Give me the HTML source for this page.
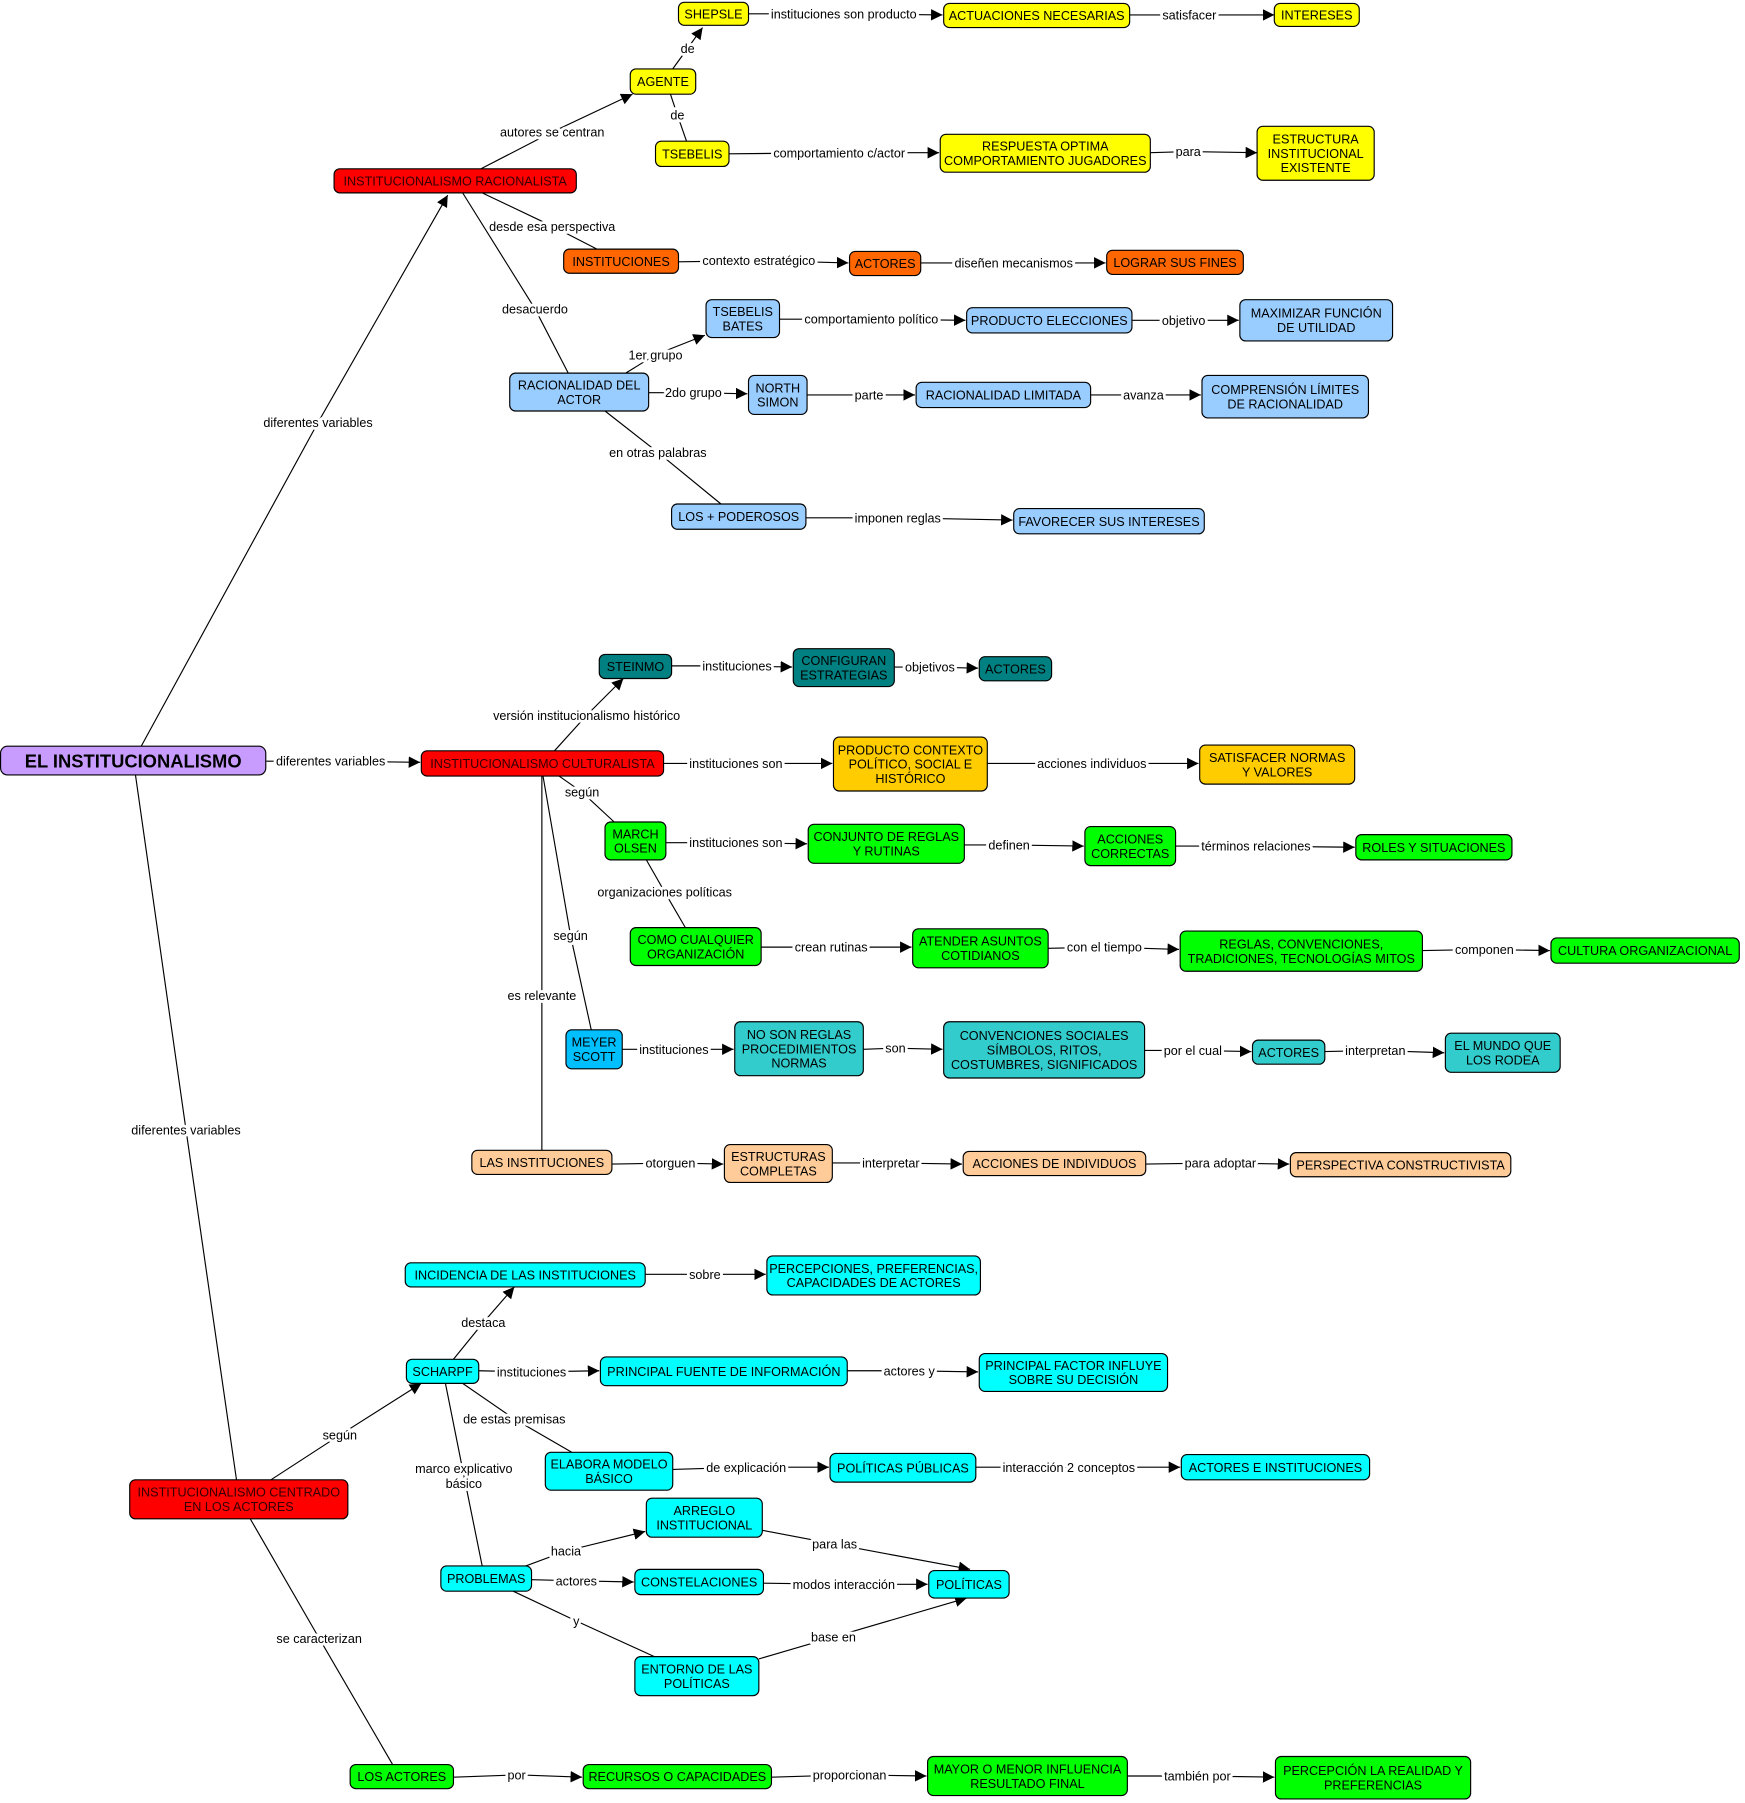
<!DOCTYPE html>
<html><head><meta charset="utf-8"><style>
html,body{margin:0;padding:0;background:#fff}
svg{display:block}
text{font-family:"Liberation Sans",sans-serif;font-size:11px;fill:#000}
.n{stroke:#000;stroke-width:1}
.l{stroke:#000;stroke-width:1;fill:none}
.a{marker-end:url(#ar)}
.lb{text-anchor:middle;paint-order:stroke;stroke:#fff;stroke-width:5px;stroke-linejoin:round}
.t{text-anchor:middle}
.r text{fill:#300}
</style></head><body>
<svg width="1745" height="1803" viewBox="0 0 1520 1570.5" xmlns="http://www.w3.org/2000/svg">
<defs><marker id="ar" markerWidth="11" markerHeight="11" refX="10" refY="5" orient="auto" markerUnits="userSpaceOnUse"><path d="M0,0 L10,5 L0,10 z" fill="#000"/></marker></defs>
<g>
<path class="l a" d="M652,12 L735,12 L821,13"/>
<path class="l a" d="M984,13 L1036,13 L1110,13"/>
<path class="l a" d="M586,60 L599,42 L612,24"/>
<path class="l" d="M584,82 L590,100 L598,123"/>
<path class="l a" d="M635,134 L731,133 L818,133"/>
<path class="l a" d="M1002,133 L1035,132 L1095,133"/>
<path class="l a" d="M419,147 L481,115 L551,82"/>
<path class="l" d="M420,168 L481,197 L520,217"/>
<path class="l a" d="M591,228 L661,227 L739,229"/>
<path class="l a" d="M802,229 L883,229 L963,229"/>
<path class="l" d="M403,168 L466,269 L495,325"/>
<path class="l a" d="M545,325 L571,309 L614,292"/>
<path class="l a" d="M565,342 L604,342 L651,343"/>
<path class="l a" d="M703,344 L757,344 L797,344"/>
<path class="l a" d="M950,344 L996,344 L1046,344"/>
<path class="l a" d="M679,278 L759,278 L841,279"/>
<path class="l a" d="M986,279 L1031,279 L1079,279"/>
<path class="l" d="M527,358 L573,394 L628,439"/>
<path class="l a" d="M702,451 L782,451 L882,453"/>
<path class="l a" d="M123,650 L277,368 L390,170"/>
<path class="l a" d="M232,663 L288,663 L366,664"/>
<path class="l" d="M118,675 L162,984 L206,1289"/>
<path class="l a" d="M483,654 L511,623 L543,591"/>
<path class="l a" d="M585,580 L642,580 L690,581"/>
<path class="l a" d="M779,581 L810,581 L852,582"/>
<path class="l a" d="M578,665 L641,665 L725,665"/>
<path class="l a" d="M860,665 L951,665 L1044,665"/>
<path class="l" d="M487,676 L507,690 L535,716"/>
<path class="l a" d="M580,734 L641,734 L703,735"/>
<path class="l a" d="M840,736 L879,736 L944,737"/>
<path class="l a" d="M1024,737 L1094,737 L1180,738"/>
<path class="l" d="M563,749 L579,777 L597,808"/>
<path class="l a" d="M663,825 L724,825 L794,825"/>
<path class="l a" d="M913,826 L962,825 L1027,827"/>
<path class="l a" d="M1239,828 L1293,827 L1350,828"/>
<path class="l" d="M473,676 L497,815 L515,897"/>
<path class="l a" d="M542,914 L587,914 L639,914"/>
<path class="l a" d="M752,914 L780,913 L821,914"/>
<path class="l a" d="M997,915 L1039,915 L1090,916"/>
<path class="l a" d="M1154,916 L1198,915 L1258,917"/>
<path class="l" d="M472,676 L472,867 L472,1002"/>
<path class="l a" d="M533,1014 L584,1013 L630,1014"/>
<path class="l a" d="M725,1013 L776,1013 L838,1014"/>
<path class="l a" d="M998,1014 L1063,1013 L1123,1014"/>
<path class="l a" d="M236,1289 L296,1250 L367,1205"/>
<path class="l a" d="M395,1184 L421,1152 L448,1121"/>
<path class="l a" d="M562,1110 L614,1110 L667,1110"/>
<path class="l a" d="M417,1194 L463,1195 L522,1194"/>
<path class="l a" d="M738,1194 L792,1194 L852,1195"/>
<path class="l" d="M403,1205 L448,1236 L498,1265"/>
<path class="l a" d="M586,1280 L650,1278 L722,1278"/>
<path class="l a" d="M850,1278 L931,1278 L1028,1278"/>
<path class="l" d="M388,1205 L404,1285 L420,1364"/>
<path class="l a" d="M458,1364 L493,1351 L562,1334"/>
<path class="l a" d="M664,1333 L727,1345 L845,1367"/>
<path class="l a" d="M463,1376 L502,1377 L552,1378"/>
<path class="l a" d="M665,1379 L735,1380 L808,1380"/>
<path class="l" d="M447,1386 L502,1412 L570,1443"/>
<path class="l a" d="M661,1445 L726,1426 L842,1392"/>
<path class="l" d="M218,1323 L278,1427 L342,1537"/>
<path class="l a" d="M395,1548 L450,1546 L507,1548"/>
<path class="l a" d="M672,1548 L740,1546 L807,1547"/>
<path class="l a" d="M982,1547 L1043,1547 L1110,1548"/>
</g>
<g>
<rect class="n" x="591" y="2" width="61" height="20" rx="5" fill="#ffff00"/><text class="t" x="621.5" y="16">SHEPSLE</text>
<rect class="n" x="822" y="3" width="162" height="21" rx="5" fill="#ffff00"/><text class="t" x="903" y="17.5">ACTUACIONES NECESARIAS</text>
<rect class="n" x="1110" y="3" width="74" height="20" rx="5" fill="#ffff00"/><text class="t" x="1147" y="17">INTERESES</text>
<rect class="n" x="549" y="60" width="57" height="22" rx="5" fill="#ffff00"/><text class="t" x="577.5" y="75">AGENTE</text>
<rect class="n" x="571" y="123" width="64" height="22" rx="5" fill="#ffff00"/><text class="t" x="603" y="138">TSEBELIS</text>
<rect class="n" x="819" y="117" width="183" height="33" rx="5" fill="#ffff00"/><text class="t" x="910.5" y="131.25">RESPUESTA OPTIMA<tspan x="910.5" dy="12.5">COMPORTAMIENTO JUGADORES</tspan></text>
<rect class="n" x="1095" y="110" width="102" height="47" rx="5" fill="#ffff00"/><text class="t" x="1146" y="125">ESTRUCTURA<tspan x="1146" dy="12.5">INSTITUCIONAL</tspan><tspan x="1146" dy="12.5">EXISTENTE</tspan></text>
<g class="r"><rect class="n" x="291" y="147" width="211" height="21" rx="5" fill="#ff0000"/><text class="t" x="396.5" y="161.5">INSTITUCIONALISMO RACIONALISTA</text></g>
<rect class="n" x="491" y="217" width="100" height="21" rx="5" fill="#ff6600"/><text class="t" x="541" y="231.5">INSTITUCIONES</text>
<rect class="n" x="740" y="219" width="62" height="21" rx="5" fill="#ff6600"/><text class="t" x="771" y="233.5">ACTORES</text>
<rect class="n" x="964" y="218" width="119" height="21" rx="5" fill="#ff6600"/><text class="t" x="1023.5" y="232.5">LOGRAR SUS FINES</text>
<rect class="n" x="615" y="261" width="64" height="33" rx="5" fill="#99ccff"/><text class="t" x="647" y="275.25">TSEBELIS<tspan x="647" dy="12.5">BATES</tspan></text>
<rect class="n" x="842" y="268" width="144" height="22" rx="5" fill="#99ccff"/><text class="t" x="914" y="283">PRODUCTO ELECCIONES</text>
<rect class="n" x="1080" y="261" width="133" height="36" rx="5" fill="#99ccff"/><text class="t" x="1146.5" y="276.75">MAXIMIZAR FUNCIÓN<tspan x="1146.5" dy="12.5">DE UTILIDAD</tspan></text>
<rect class="n" x="444" y="325" width="121" height="33" rx="5" fill="#99ccff"/><text class="t" x="504.5" y="339.25">RACIONALIDAD DEL<tspan x="504.5" dy="12.5">ACTOR</tspan></text>
<rect class="n" x="652" y="327" width="51" height="34" rx="5" fill="#99ccff"/><text class="t" x="677.5" y="341.75">NORTH<tspan x="677.5" dy="12.5">SIMON</tspan></text>
<rect class="n" x="798" y="333" width="152" height="22" rx="5" fill="#99ccff"/><text class="t" x="874" y="348">RACIONALIDAD LIMITADA</text>
<rect class="n" x="1047" y="327" width="145" height="37" rx="5" fill="#99ccff"/><text class="t" x="1119.5" y="343.25">COMPRENSIÓN LÍMITES<tspan x="1119.5" dy="12.5">DE RACIONALIDAD</tspan></text>
<rect class="n" x="585" y="439" width="117" height="22" rx="5" fill="#99ccff"/><text class="t" x="643.5" y="454">LOS + PODEROSOS</text>
<rect class="n" x="883" y="443" width="166" height="22" rx="5" fill="#99ccff"/><text class="t" x="966" y="458">FAVORECER SUS INTERESES</text>
<rect class="n" x="0.5" y="650" width="231" height="25" rx="6" fill="#c89cff"/><text class="t" x="116" y="668.5" style="font-size:16px;font-weight:bold">EL INSTITUCIONALISMO</text>
<rect class="n" x="522" y="570" width="63" height="21" rx="5" fill="#008080"/><text class="t" x="553.5" y="584.5">STEINMO</text>
<rect class="n" x="691" y="565" width="88" height="33" rx="5" fill="#008080"/><text class="t" x="735" y="579.25">CONFIGURAN<tspan x="735" dy="12.5">ESTRATEGIAS</tspan></text>
<rect class="n" x="853" y="572" width="63" height="21" rx="5" fill="#008080"/><text class="t" x="884.5" y="586.5">ACTORES</text>
<g class="r"><rect class="n" x="367" y="654" width="211" height="22" rx="5" fill="#ff0000"/><text class="t" x="472.5" y="669">INSTITUCIONALISMO CULTURALISTA</text></g>
<rect class="n" x="726" y="642" width="134" height="47" rx="5" fill="#ffcc00"/><text class="t" x="793" y="657">PRODUCTO CONTEXTO<tspan x="793" dy="12.5">POLÍTICO, SOCIAL E</tspan><tspan x="793" dy="12.5">HISTÓRICO</tspan></text>
<rect class="n" x="1045" y="649" width="135" height="34" rx="5" fill="#ffcc00"/><text class="t" x="1112.5" y="663.75">SATISFACER NORMAS<tspan x="1112.5" dy="12.5">Y VALORES</tspan></text>
<rect class="n" x="527" y="716" width="53" height="33" rx="5" fill="#00ff00"/><text class="t" x="553.5" y="730.25">MARCH<tspan x="553.5" dy="12.5">OLSEN</tspan></text>
<rect class="n" x="704" y="718" width="136" height="34" rx="5" fill="#00ff00"/><text class="t" x="772" y="732.75">CONJUNTO DE REGLAS<tspan x="772" dy="12.5">Y RUTINAS</tspan></text>
<rect class="n" x="945" y="720" width="79" height="34" rx="5" fill="#00ff00"/><text class="t" x="984.5" y="734.75">ACCIONES<tspan x="984.5" dy="12.5">CORRECTAS</tspan></text>
<rect class="n" x="1181" y="727" width="136" height="22" rx="5" fill="#00ff00"/><text class="t" x="1249" y="742">ROLES Y SITUACIONES</text>
<rect class="n" x="549" y="808" width="114" height="33" rx="5" fill="#00ff00"/><text class="t" x="606" y="822.25">COMO CUALQUIER<tspan x="606" dy="12.5">ORGANIZACIÓN</tspan></text>
<rect class="n" x="795" y="809" width="118" height="34" rx="5" fill="#00ff00"/><text class="t" x="854" y="823.75">ATENDER ASUNTOS<tspan x="854" dy="12.5">COTIDIANOS</tspan></text>
<rect class="n" x="1028" y="811" width="211" height="35" rx="5" fill="#00ff00"/><text class="t" x="1133.5" y="826.25">REGLAS, CONVENCIONES,<tspan x="1133.5" dy="12.5">TRADICIONES, TECNOLOGÍAS MITOS</tspan></text>
<rect class="n" x="1351" y="817" width="164" height="22" rx="5" fill="#00ff00"/><text class="t" x="1433" y="832">CULTURA ORGANIZACIONAL</text>
<rect class="n" x="493" y="897" width="49" height="34" rx="5" fill="#00bfff"/><text class="t" x="517.5" y="911.75">MEYER<tspan x="517.5" dy="12.5">SCOTT</tspan></text>
<rect class="n" x="640" y="890" width="112" height="47" rx="5" fill="#33cccc"/><text class="t" x="696" y="905">NO SON REGLAS<tspan x="696" dy="12.5">PROCEDIMIENTOS</tspan><tspan x="696" dy="12.5">NORMAS</tspan></text>
<rect class="n" x="822" y="890" width="175" height="49" rx="5" fill="#33cccc"/><text class="t" x="909.5" y="906">CONVENCIONES SOCIALES<tspan x="909.5" dy="12.5">SÍMBOLOS, RITOS,</tspan><tspan x="909.5" dy="12.5">COSTUMBRES, SIGNIFICADOS</tspan></text>
<rect class="n" x="1091" y="906" width="63" height="21" rx="5" fill="#33cccc"/><text class="t" x="1122.5" y="920.5">ACTORES</text>
<rect class="n" x="1259" y="900" width="100" height="34" rx="5" fill="#33cccc"/><text class="t" x="1309" y="914.75">EL MUNDO QUE<tspan x="1309" dy="12.5">LOS RODEA</tspan></text>
<rect class="n" x="411" y="1002" width="122" height="21" rx="5" fill="#ffcc99"/><text class="t" x="472" y="1016.5">LAS INSTITUCIONES</text>
<rect class="n" x="631" y="997" width="94" height="33" rx="5" fill="#ffcc99"/><text class="t" x="678" y="1011.25">ESTRUCTURAS<tspan x="678" dy="12.5">COMPLETAS</tspan></text>
<rect class="n" x="839" y="1003" width="159" height="21" rx="5" fill="#ffcc99"/><text class="t" x="918.5" y="1017.5">ACCIONES DE INDIVIDUOS</text>
<rect class="n" x="1124" y="1004" width="192" height="21" rx="5" fill="#ffcc99"/><text class="t" x="1220" y="1018.5">PERSPECTIVA CONSTRUCTIVISTA</text>
<rect class="n" x="353" y="1100" width="209" height="21" rx="5" fill="#00ffff"/><text class="t" x="457.5" y="1114.5">INCIDENCIA DE LAS INSTITUCIONES</text>
<rect class="n" x="668" y="1094" width="186" height="34" rx="5" fill="#00ffff"/><text class="t" x="761" y="1108.75">PERCEPCIONES, PREFERENCIAS,<tspan x="761" dy="12.5">CAPACIDADES DE ACTORES</tspan></text>
<rect class="n" x="354" y="1184" width="63" height="21" rx="5" fill="#00ffff"/><text class="t" x="385.5" y="1198.5">SCHARPF</text>
<rect class="n" x="523" y="1182" width="215" height="25" rx="5" fill="#00ffff"/><text class="t" x="630.5" y="1198.5">PRINCIPAL FUENTE DE INFORMACIÓN</text>
<rect class="n" x="853" y="1179" width="164" height="33" rx="5" fill="#00ffff"/><text class="t" x="935" y="1193.25">PRINCIPAL FACTOR INFLUYE<tspan x="935" dy="12.5">SOBRE SU DECISIÓN</tspan></text>
<rect class="n" x="475" y="1265" width="111" height="33" rx="5" fill="#00ffff"/><text class="t" x="530.5" y="1279.25">ELABORA MODELO<tspan x="530.5" dy="12.5">BÁSICO</tspan></text>
<rect class="n" x="723" y="1266" width="127" height="25" rx="5" fill="#00ffff"/><text class="t" x="786.5" y="1282.5">POLÍTICAS PÚBLICAS</text>
<rect class="n" x="1029" y="1267" width="164" height="22" rx="5" fill="#00ffff"/><text class="t" x="1111" y="1282">ACTORES E INSTITUCIONES</text>
<rect class="n" x="563" y="1305" width="101" height="34" rx="5" fill="#00ffff"/><text class="t" x="613.5" y="1319.75">ARREGLO<tspan x="613.5" dy="12.5">INSTITUCIONAL</tspan></text>
<rect class="n" x="384" y="1364" width="79" height="22" rx="5" fill="#00ffff"/><text class="t" x="423.5" y="1379">PROBLEMAS</text>
<rect class="n" x="553" y="1367" width="112" height="22" rx="5" fill="#00ffff"/><text class="t" x="609" y="1382">CONSTELACIONES</text>
<rect class="n" x="809" y="1368" width="70" height="24" rx="5" fill="#00ffff"/><text class="t" x="844" y="1384">POLÍTICAS</text>
<rect class="n" x="553" y="1443" width="108" height="34" rx="5" fill="#00ffff"/><text class="t" x="607" y="1457.75">ENTORNO DE LAS<tspan x="607" dy="12.5">POLÍTICAS</tspan></text>
<g class="r"><rect class="n" x="113" y="1289" width="190" height="34" rx="5" fill="#ff0000"/><text class="t" x="208" y="1303.75">INSTITUCIONALISMO CENTRADO<tspan x="208" dy="12.5">EN LOS ACTORES</tspan></text></g>
<rect class="n" x="305" y="1537" width="90" height="21" rx="5" fill="#00ff00"/><text class="t" x="350" y="1551.5">LOS ACTORES</text>
<rect class="n" x="508" y="1537" width="164" height="21" rx="5" fill="#00ff00"/><text class="t" x="590" y="1551.5">RECURSOS O CAPACIDADES</text>
<rect class="n" x="808" y="1530" width="174" height="34" rx="5" fill="#00ff00"/><text class="t" x="895" y="1544.75">MAYOR O MENOR INFLUENCIA<tspan x="895" dy="12.5">RESULTADO FINAL</tspan></text>
<rect class="n" x="1111" y="1530" width="170" height="37" rx="5" fill="#00ff00"/><text class="t" x="1196" y="1546.25">PERCEPCIÓN LA REALIDAD Y<tspan x="1196" dy="12.5">PREFERENCIAS</tspan></text>
</g>
<g>
<text class="lb" x="735" y="16">instituciones son producto</text>
<text class="lb" x="1036" y="17">satisfacer</text>
<text class="lb" x="599" y="46">de</text>
<text class="lb" x="590" y="104">de</text>
<text class="lb" x="731" y="137">comportamiento c/actor</text>
<text class="lb" x="1035" y="136">para</text>
<text class="lb" x="481" y="119">autores se centran</text>
<text class="lb" x="481" y="201">desde esa perspectiva</text>
<text class="lb" x="661" y="231">contexto estratégico</text>
<text class="lb" x="883" y="233">diseñen mecanismos</text>
<text class="lb" x="466" y="273">desacuerdo</text>
<text class="lb" x="571" y="313">1er grupo</text>
<text class="lb" x="604" y="346">2do grupo</text>
<text class="lb" x="757" y="348">parte</text>
<text class="lb" x="996" y="348">avanza</text>
<text class="lb" x="759" y="282">comportamiento político</text>
<text class="lb" x="1031" y="283">objetivo</text>
<text class="lb" x="573" y="398">en otras palabras</text>
<text class="lb" x="782" y="455">imponen reglas</text>
<text class="lb" x="277" y="372">diferentes variables</text>
<text class="lb" x="288" y="667">diferentes variables</text>
<text class="lb" x="162" y="988">diferentes variables</text>
<text class="lb" x="511" y="627">versión institucionalismo histórico</text>
<text class="lb" x="642" y="584">instituciones</text>
<text class="lb" x="810" y="585">objetivos</text>
<text class="lb" x="641" y="669">instituciones son</text>
<text class="lb" x="951" y="669">acciones individuos</text>
<text class="lb" x="507" y="694">según</text>
<text class="lb" x="641" y="738">instituciones son</text>
<text class="lb" x="879" y="740">definen</text>
<text class="lb" x="1094" y="741">términos relaciones</text>
<text class="lb" x="579" y="781">organizaciones políticas</text>
<text class="lb" x="724" y="829">crean rutinas</text>
<text class="lb" x="962" y="829">con el tiempo</text>
<text class="lb" x="1293" y="831">componen</text>
<text class="lb" x="497" y="819">según</text>
<text class="lb" x="587" y="918">instituciones</text>
<text class="lb" x="780" y="917">son</text>
<text class="lb" x="1039" y="919">por el cual</text>
<text class="lb" x="1198" y="919">interpretan</text>
<text class="lb" x="472" y="871">es relevante</text>
<text class="lb" x="584" y="1017">otorguen</text>
<text class="lb" x="776" y="1017">interpretar</text>
<text class="lb" x="1063" y="1017">para adoptar</text>
<text class="lb" x="296" y="1254">según</text>
<text class="lb" x="421" y="1156">destaca</text>
<text class="lb" x="614" y="1114">sobre</text>
<text class="lb" x="463" y="1199">instituciones</text>
<text class="lb" x="792" y="1198">actores y</text>
<text class="lb" x="448" y="1240">de estas premisas</text>
<text class="lb" x="650" y="1282">de explicación</text>
<text class="lb" x="931" y="1282">interacción 2 conceptos</text>
<text class="lb" x="404" y="1283">marco explicativo</text>
<text class="lb" x="404" y="1296">básico</text>
<text class="lb" x="493" y="1355">hacia</text>
<text class="lb" x="727" y="1349">para las</text>
<text class="lb" x="502" y="1381">actores</text>
<text class="lb" x="735" y="1384">modos interacción</text>
<text class="lb" x="502" y="1416">y</text>
<text class="lb" x="726" y="1430">base en</text>
<text class="lb" x="278" y="1431">se caracterizan</text>
<text class="lb" x="450" y="1550">por</text>
<text class="lb" x="740" y="1550">proporcionan</text>
<text class="lb" x="1043" y="1551">también por</text>
</g>
</svg>
</body></html>
